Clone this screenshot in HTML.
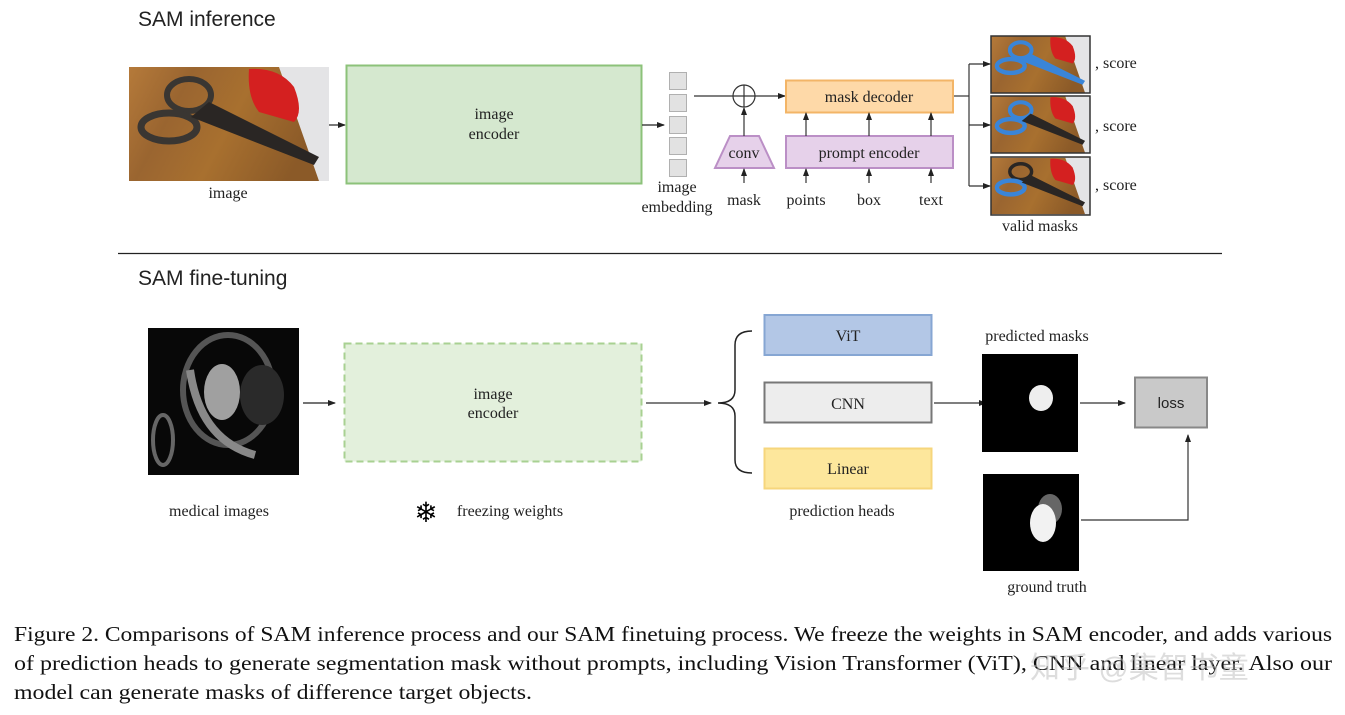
<!DOCTYPE html>
<html><head><meta charset="utf-8"><style>
html,body{margin:0;padding:0;background:#fff;}
svg{display:block;}
.s{font-family:"Liberation Sans",sans-serif;}
.r{font-family:"Liberation Serif",serif;}
</style></head><body>
<svg width="1345" height="715" viewBox="0 0 1345 715" xmlns="http://www.w3.org/2000/svg">
<defs>
<marker id="a" markerWidth="8" markerHeight="8" refX="7" refY="4" orient="auto" markerUnits="userSpaceOnUse"><path d="M0,1 L8,4 L0,7 z" fill="#222"/></marker>
<linearGradient id="wood" x1="0" y1="0" x2="1" y2="0.3">
<stop offset="0" stop-color="#b57a3a"/><stop offset="0.3" stop-color="#9a6530"/><stop offset="0.6" stop-color="#a8702f"/><stop offset="1" stop-color="#8b5a28"/></linearGradient>
<symbol id="bg" viewBox="0 0 200 114">
<rect width="200" height="114" fill="url(#wood)"/>
<polygon points="150,0 200,0 200,114 190,114" fill="#e4e4e6"/>
<path d="M120,2 Q150,0 165,20 Q175,45 165,55 L130,45 Q118,30 120,2z" fill="#d42020"/>
</symbol>
<symbol id="sc" viewBox="0 0 200 114">
<ellipse cx="60" cy="28" rx="22" ry="16" fill="none" stroke="#3a3632" stroke-width="6"/>
<ellipse cx="40" cy="60" rx="28" ry="14" fill="none" stroke="#3a3632" stroke-width="7"/>
<polygon points="62,50 80,35 190,90 185,98" fill="#2a2624"/>
</symbol>
<symbol id="scb" viewBox="0 0 200 114">
<ellipse cx="60" cy="28" rx="22" ry="16" fill="none" stroke="#3a85d8" stroke-width="8"/>
<ellipse cx="40" cy="60" rx="28" ry="14" fill="none" stroke="#3a85d8" stroke-width="9"/>
<polygon points="62,50 80,35 190,90 185,98" fill="#3a85d8"/>
</symbol>
<symbol id="sch" viewBox="0 0 200 114">
<ellipse cx="60" cy="28" rx="22" ry="16" fill="none" stroke="#3a85d8" stroke-width="8"/>
<ellipse cx="40" cy="60" rx="28" ry="14" fill="none" stroke="#3a85d8" stroke-width="9"/>
<polygon points="62,50 80,35 190,90 185,98" fill="#2a2624"/>
</symbol>
<symbol id="scl" viewBox="0 0 200 114">
<ellipse cx="60" cy="28" rx="22" ry="16" fill="none" stroke="#2a2624" stroke-width="7"/>
<ellipse cx="40" cy="60" rx="28" ry="14" fill="none" stroke="#3a85d8" stroke-width="9"/>
<polygon points="62,50 80,35 190,90 185,98" fill="#2a2624"/>
</symbol>
</defs>

<text x="138" y="26" class="s" font-size="21" fill="#222">SAM inference</text>
<use href="#bg" x="129" y="67" width="200" height="114"/>
<use href="#sc" x="129" y="67" width="200" height="114"/>
<text x="228" y="198" class="r" font-size="16" text-anchor="middle" fill="#222">image</text>
<line x1="329" y1="125" x2="345" y2="125" stroke="#222" stroke-width="1.2" marker-end="url(#a)"/>
<rect x="346.5" y="65.5" width="295" height="118" fill="#d5e8cf" stroke="#8cc27a" stroke-width="2"/>
<text x="494" y="119" class="r" font-size="16" text-anchor="middle" fill="#222">image</text>
<text x="494" y="139" class="r" font-size="16" text-anchor="middle" fill="#222">encoder</text>
<line x1="642" y1="125" x2="664" y2="125" stroke="#222" stroke-width="1.2" marker-end="url(#a)"/>
<g fill="#e2e2e2" stroke="#b0b0b0">
<rect x="669.5" y="72.5" width="17" height="17"/><rect x="669.5" y="94.5" width="17" height="17"/><rect x="669.5" y="116.5" width="17" height="17"/><rect x="669.5" y="137.5" width="17" height="17"/><rect x="669.5" y="159.5" width="17" height="17"/></g>
<text x="677" y="192" class="r" font-size="16" text-anchor="middle" fill="#222">image</text>
<text x="677" y="212" class="r" font-size="16" text-anchor="middle" fill="#222">embedding</text>
<line x1="694" y1="96" x2="733" y2="96" stroke="#333" stroke-width="1.2"/>
<circle cx="744" cy="96" r="11" fill="none" stroke="#333" stroke-width="1.2"/>
<line x1="733" y1="96" x2="755" y2="96" stroke="#333" stroke-width="1.2"/>
<line x1="744" y1="85" x2="744" y2="107" stroke="#333" stroke-width="1.2"/>
<line x1="755" y1="96" x2="785" y2="96" stroke="#333" stroke-width="1.2" marker-end="url(#a)"/>
<rect x="786" y="80.5" width="167" height="32" fill="#fed9a8" stroke="#f3b567" stroke-width="2"/>
<text x="869" y="102" class="r" font-size="16" text-anchor="middle" fill="#222">mask decoder</text>
<rect x="786" y="136" width="167" height="32" fill="#e6d1ea" stroke="#bb8fc6" stroke-width="2"/>
<text x="869" y="158" class="r" font-size="16" text-anchor="middle" fill="#222">prompt encoder</text>
<polygon points="730,136 759,136 774,168 715,168" fill="#e6d1ea" stroke="#bb8fc6" stroke-width="2"/>
<text x="744" y="158" class="r" font-size="16" text-anchor="middle" fill="#222">conv</text>
<g stroke="#333" stroke-width="1.2">
<line x1="744" y1="136" x2="744" y2="108" marker-end="url(#a)"/>
<line x1="744" y1="183" x2="744" y2="169" marker-end="url(#a)"/>
<line x1="806" y1="136" x2="806" y2="113" marker-end="url(#a)"/>
<line x1="869" y1="136" x2="869" y2="113" marker-end="url(#a)"/>
<line x1="931" y1="136" x2="931" y2="113" marker-end="url(#a)"/>
<line x1="806" y1="183" x2="806" y2="169" marker-end="url(#a)"/>
<line x1="869" y1="183" x2="869" y2="169" marker-end="url(#a)"/>
<line x1="931" y1="183" x2="931" y2="169" marker-end="url(#a)"/>
<line x1="954" y1="96" x2="969" y2="96"/>
<line x1="969" y1="64" x2="969" y2="186"/>
<line x1="969" y1="64" x2="990" y2="64" marker-end="url(#a)"/>
<line x1="969" y1="125" x2="990" y2="125" marker-end="url(#a)"/>
<line x1="969" y1="186" x2="990" y2="186" marker-end="url(#a)"/>
</g>
<g class="r" font-size="16" text-anchor="middle" fill="#222">
<text x="744" y="205">mask</text><text x="806" y="205">points</text><text x="869" y="205">box</text><text x="931" y="205">text</text>
<text x="1040" y="231">valid masks</text></g>
<use href="#bg" x="991" y="36" width="99" height="57"/><use href="#scb" x="991" y="36" width="99" height="57"/>
<use href="#bg" x="991" y="96" width="99" height="57"/><use href="#sch" x="991" y="96" width="99" height="57"/>
<use href="#bg" x="991" y="157" width="99" height="58"/><use href="#scl" x="991" y="157" width="99" height="58"/>
<g fill="none" stroke="#333" stroke-width="1.5"><rect x="991" y="36" width="99" height="57"/><rect x="991" y="96" width="99" height="57"/><rect x="991" y="157" width="99" height="58"/></g>
<g class="r" font-size="16" fill="#222"><text x="1095" y="68">, score</text><text x="1095" y="131">, score</text><text x="1095" y="190">, score</text></g>

<line x1="118" y1="253.5" x2="1222" y2="253.5" stroke="#222" stroke-width="1.2"/>

<text x="138" y="285" class="s" font-size="21" fill="#222">SAM fine-tuning</text>
<rect x="148" y="328" width="151" height="147" fill="#080808"/>
<ellipse cx="228" cy="390" rx="45" ry="55" fill="none" stroke="#555" stroke-width="6"/>
<ellipse cx="222" cy="392" rx="18" ry="28" fill="#a0a0a0"/>
<path d="M190,370 Q200,440 255,455" stroke="#888" stroke-width="8" fill="none"/>
<ellipse cx="262" cy="395" rx="22" ry="30" fill="#2a2a2a"/>
<ellipse cx="163" cy="440" rx="10" ry="25" fill="none" stroke="#666" stroke-width="4"/>
<line x1="303" y1="403" x2="335" y2="403" stroke="#222" stroke-width="1.2" marker-end="url(#a)"/>
<rect x="344.5" y="343.5" width="297" height="118" fill="#e3f0dc" stroke="#a8d192" stroke-width="2" stroke-dasharray="7,4"/>
<text x="493" y="399" class="r" font-size="16" text-anchor="middle" fill="#222">image</text>
<text x="493" y="418" class="r" font-size="16" text-anchor="middle" fill="#222">encoder</text>
<line x1="646" y1="403" x2="711" y2="403" stroke="#333" stroke-width="1.2" marker-end="url(#a)"/>
<path d="M752,331 Q735,331 735,345 L735,390 Q735,403 718,403 Q735,403 735,416 L735,460 Q735,473 752,473" fill="none" stroke="#222" stroke-width="1.5"/>
<rect x="764.5" y="315" width="167" height="40" fill="#b3c7e6" stroke="#86a6d3" stroke-width="2"/>
<rect x="764.5" y="382.5" width="167" height="40" fill="#ededed" stroke="#777" stroke-width="2"/>
<rect x="764.5" y="448.5" width="167" height="40" fill="#fde79c" stroke="#f6d67c" stroke-width="2"/>
<g class="r" font-size="16" fill="#222" text-anchor="middle">
<text x="848" y="341">ViT</text><text x="848" y="409">CNN</text><text x="848" y="474">Linear</text>
<text x="842" y="516">prediction heads</text><text x="1037" y="341">predicted masks</text>
<text x="1047" y="592">ground truth</text><text x="219" y="516">medical images</text>
<text x="510" y="516">freezing weights</text></g>
<text x="426" y="522" font-size="28" font-weight="bold" text-anchor="middle" fill="#000" font-family="DejaVu Sans,sans-serif">❄</text>
<line x1="934" y1="403" x2="986" y2="403" stroke="#333" stroke-width="1.2" marker-end="url(#a)"/>
<rect x="982" y="354" width="96" height="98" fill="#000"/>
<ellipse cx="1041" cy="398" rx="12" ry="13" fill="#eee"/>
<rect x="983" y="474" width="96" height="97" fill="#000"/>
<ellipse cx="1050" cy="509" rx="12" ry="15" fill="#666"/>
<ellipse cx="1043" cy="523" rx="13" ry="19" fill="#f2f2f2"/>
<line x1="1080" y1="403" x2="1125" y2="403" stroke="#333" stroke-width="1.2" marker-end="url(#a)"/>
<rect x="1135" y="377.5" width="72" height="50" fill="#c9c9c9" stroke="#888" stroke-width="2"/>
<text x="1171" y="408" class="s" font-size="15" text-anchor="middle" fill="#222">loss</text>
<polyline points="1081,520 1188,520 1188,435" fill="none" stroke="#333" stroke-width="1.2" marker-end="url(#a)"/>

<g class="r" font-size="21" fill="#111">
<text x="14" y="641" textLength="1318" lengthAdjust="spacingAndGlyphs">Figure 2. Comparisons of SAM inference process and our SAM finetuing process. We freeze the weights in SAM encoder, and adds various</text>
<text x="14" y="670" textLength="1318" lengthAdjust="spacingAndGlyphs">of prediction heads to generate segmentation mask without prompts, including Vision Transformer (ViT), CNN and linear layer. Also our</text>
<text x="14" y="699" textLength="518" lengthAdjust="spacingAndGlyphs">model can generate masks of difference target objects.</text>
</g>
<text x="1030" y="678" font-family="Liberation Sans,Noto Sans CJK SC,sans-serif" font-size="30" fill="#bbb" fill-opacity="0.5">知乎 @集智书童</text>
</svg>
</body></html>
